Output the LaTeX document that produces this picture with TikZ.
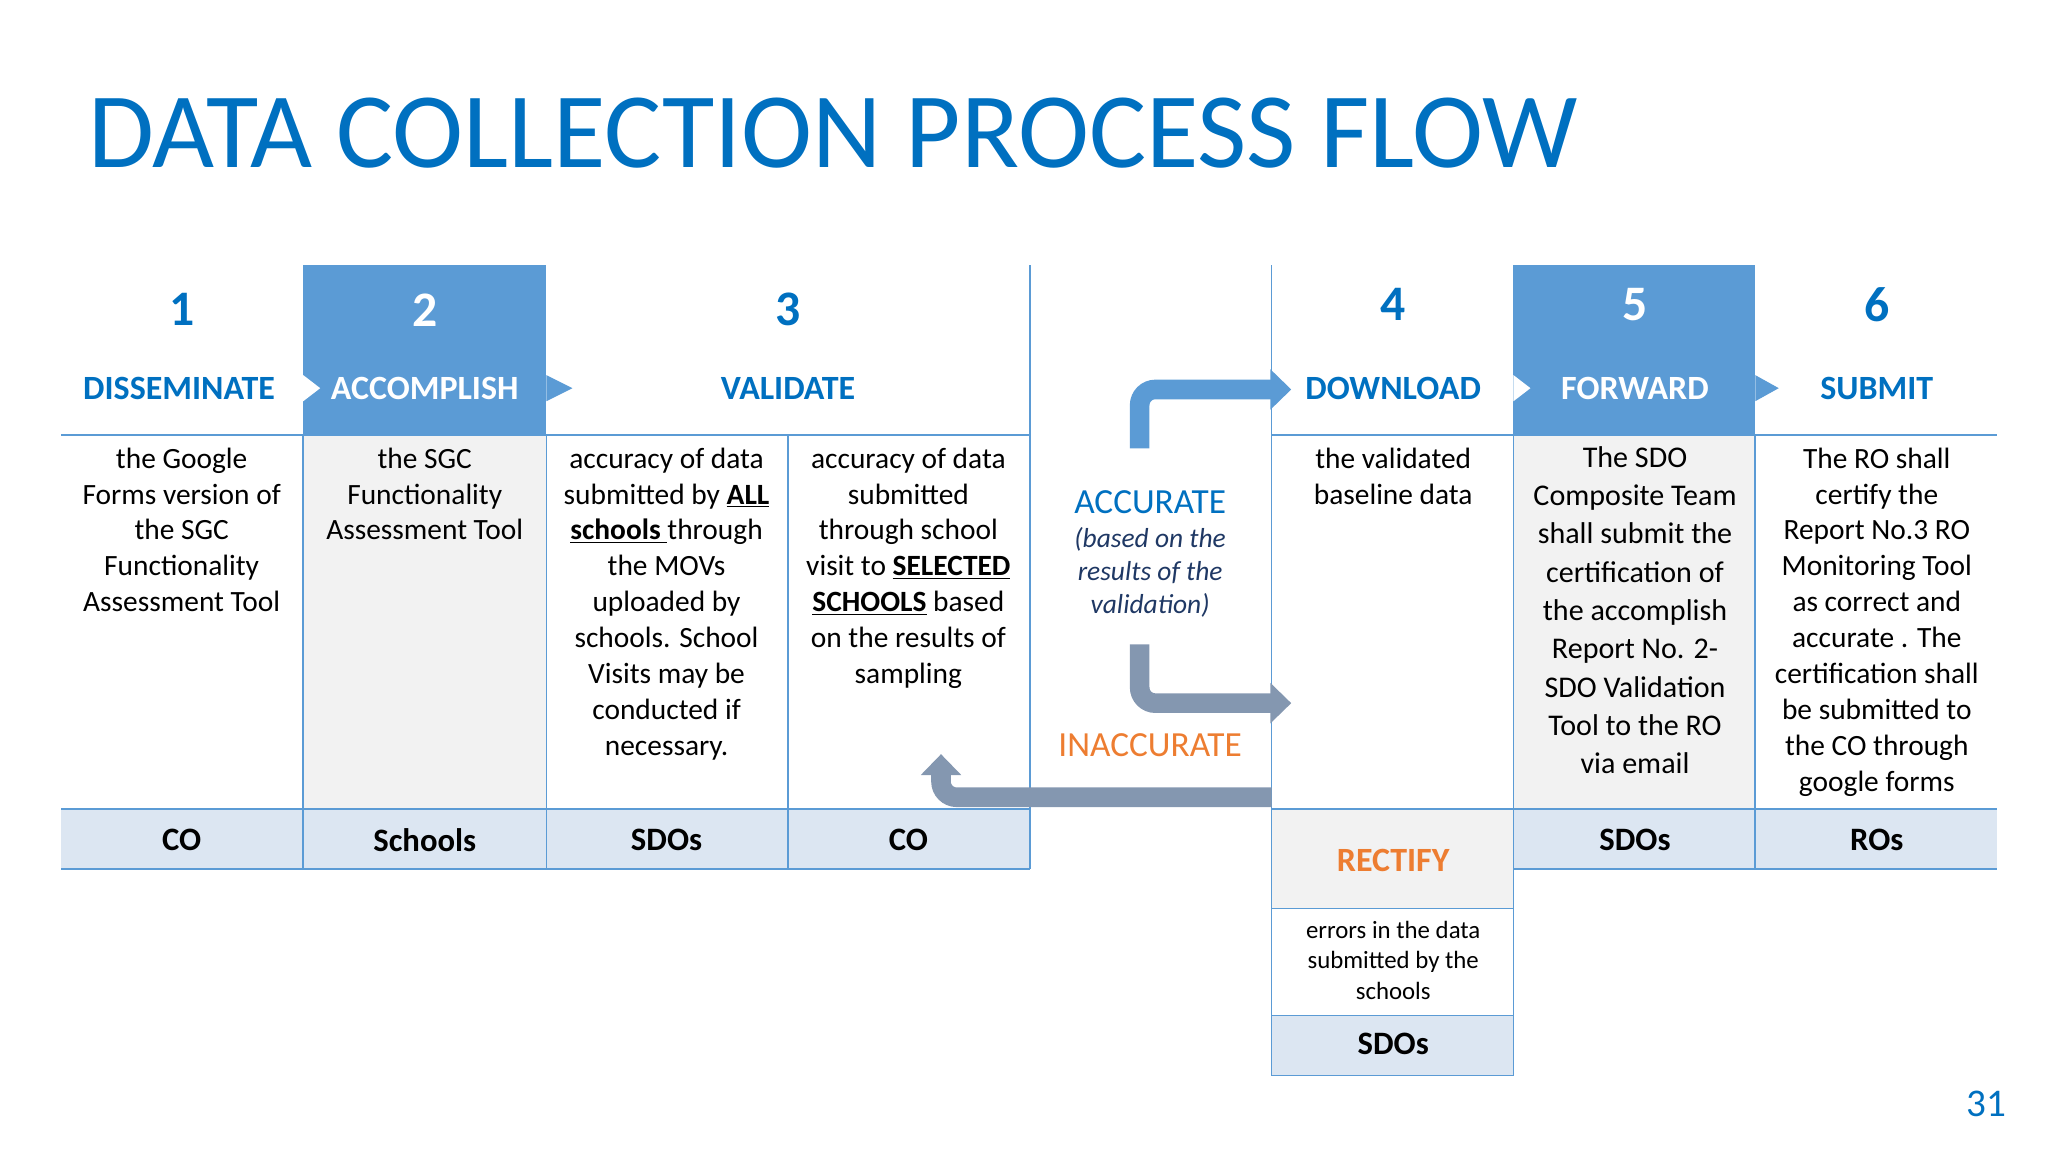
\documentclass[tikz,border=0pt]{standalone}
\usepackage{fontspec}
\setmainfont{Carlito}
\usetikzlibrary{arrows.meta}
\definecolor{hb}{HTML}{5B9BD5}
\definecolor{tb}{HTML}{0070C0}
\definecolor{lb}{HTML}{DCE6F2}
\definecolor{gr}{HTML}{F2F2F2}
\definecolor{gb}{HTML}{8497B0}
\definecolor{db}{HTML}{1F3864}
\definecolor{or}{HTML}{ED7D31}
\begin{document}
\begin{tikzpicture}[x=1pt,y=-1pt,
  ln/.style={draw=hb,line width=1.2pt},
  num/.style={font=\fontsize{38}{40}\selectfont\bfseries,text=tb},
  hd/.style={font=\fontsize{26}{28}\selectfont\bfseries,text=tb},
  body/.style={font=\fontsize{22.5}{27.5}\selectfont,align=center,anchor=north},
  bot/.style={font=\fontsize{25}{27}\selectfont\bfseries},
  big/.style={line width=15pt,rounded corners=12pt}]
\useasboundingbox (0,0) rectangle (1567,881.4);
% fills
\fill[hb] (232,203) rectangle (418,333);
\fill[hb] (1158,203) rectangle (1343,333);
\fill[gr] (232,333) rectangle (418,619);
\fill[gr] (1158,333) rectangle (1343,619);
\fill[lb] (47,619) rectangle (788,665);
\fill[lb] (1158,619) rectangle (1528,665);
\fill[lb] (973,777) rectangle (1158,823);
\fill[gr] (973,619) rectangle (1158,695);
% chevrons
\fill[hb] (418,287) -- (438,297) -- (418,307) -- cycle;
\fill[hb] (1343,287) -- (1361,297) -- (1343,307) -- cycle;
\fill[white] (232,287) -- (245,297) -- (232,307) -- cycle;
\fill[white] (1158,287) -- (1171,297) -- (1158,307) -- cycle;
% lines
\draw[ln] (47,333) -- (788,333) (973,333) -- (1528,333);
\draw[ln] (47,619) -- (788,619) (973,619) -- (1528,619);
\draw[ln] (47,665) -- (788,665) (1158,665) -- (1528,665);
\draw[ln] (232,333) -- (232,665) (418,333) -- (418,665) (603,333) -- (603,665);
\draw[ln] (788,203) -- (788,665) (973,203) -- (973,823) (1158,333) -- (1158,823) (1343,333) -- (1343,665);
\draw[ln] (973,695) -- (1158,695) (973,777) -- (1158,777) (973,823) -- (1158,823);
% headers
\node[num] (n1) at (139,237) {1};
\node[num,text=white] (n2) at (325,237) {2};
\node[num] (n3) at (603,237) {3};
\node[num] (n4) at (1066,233) {4};
\node[num,text=white] (n5) at (1251,233) {5};
\node[num] (n6) at (1436,233) {6};
\node[hd] (h1) at (137,297) {DISSEMINATE};
\node[hd,text=white] (h2) at (325,297) {ACCOMPLISH};
\node[hd] (h3) at (603,297) {VALIDATE};
\node[hd] (h4) at (1066,297) {DOWNLOAD};
\node[hd,text=white] (h5) at (1251,297) {FORWARD};
\node[hd] (h6) at (1436,297) {SUBMIT};
% bodies
\node[body] (b1) at (139,339) {the Google\\Forms version of\\the SGC\\Functionality\\Assessment Tool};
\node[body] (b2) at (325,339) {the SGC\\Functionality\\Assessment Tool};
\node[body] (b3) at (510,339) {accuracy of data\\submitted by \underline{\textbf{ALL}}\\\underline{\textbf{schools} }through\\the MOVs\\uploaded by\\schools. School\\Visits may be\\conducted if\\necessary.};
\node[body] (b4) at (695,339) {accuracy of data\\submitted\\through school\\visit to \underline{\textbf{SELECTED}}\\\underline{\textbf{SCHOOLS}} based\\on the results of\\sampling};
\node[body] (b5) at (1066,339) {the validated\\baseline data};
\node[body,font=\fontsize{23}{29.3}\selectfont] (b6) at (1251,338) {The SDO\\Composite Team\\shall submit the\\certification of\\the accomplish\\Report No. 2-\\SDO Validation\\Tool to the RO\\via email};
\node[body] (b7) at (1436,339) {The RO shall\\certify the\\Report No.3 RO\\Monitoring Tool\\as correct and\\accurate . The\\certification shall\\be submitted to\\the CO through\\google forms};
% bottom
\node[bot] (c1) at (139,643) {CO};
\node[bot] (c2) at (325,643) {Schools};
\node[bot] (c3) at (510,643) {SDOs};
\node[bot] (c4) at (695,643) {CO};
\node[bot] (c5) at (1251,643) {SDOs};
\node[bot] (c6) at (1436,643) {ROs};
\node[hd,text=or] (r1) at (1066,658) {RECTIFY};
\node[body,font=\fontsize{19}{23.5}\selectfont] (r2) at (1066,701) {errors in the data\\submitted by the\\schools};
\node[bot] (r3) at (1066,799) {SDOs};
% middle
\node[font=\fontsize{27}{28}\selectfont,text=tb] (acc) at (880,384) {ACCURATE};
\node[font=\fontsize{21}{25.5}\selectfont\itshape,text=db,align=center] (accn) at (880,438) {(based on the\\results of the\\validation)};
\node[font=\fontsize{27}{28}\selectfont,text=or] (inacc) at (880,570) {INACCURATE};
\coordinate (a1) at (872,343);
\coordinate (a2) at (988,298);
\coordinate (i1) at (872,493);
\coordinate (i2) at (988,538);
\coordinate (k1) at (973,610);
\coordinate (k2) at (720,577);
\draw[big,hb,-{Triangle[length=16pt,width=30pt]}] (a1) |- (a2);
\draw[big,gb,-{Triangle[length=16pt,width=30pt]}] (i1) |- (i2);
\draw[big,gb,-{Triangle[length=16pt,width=30pt]}] (k1) -| (k2);
% title
\node[font=\fontsize{82}{84}\selectfont,text=tb,anchor=west] (title) at (64,102) {DATA COLLECTION PROCESS FLOW};
\node[font=\fontsize{30}{30}\selectfont,text=tb] (pg) at (1520,845) {31};
\end{tikzpicture}
\end{document}
